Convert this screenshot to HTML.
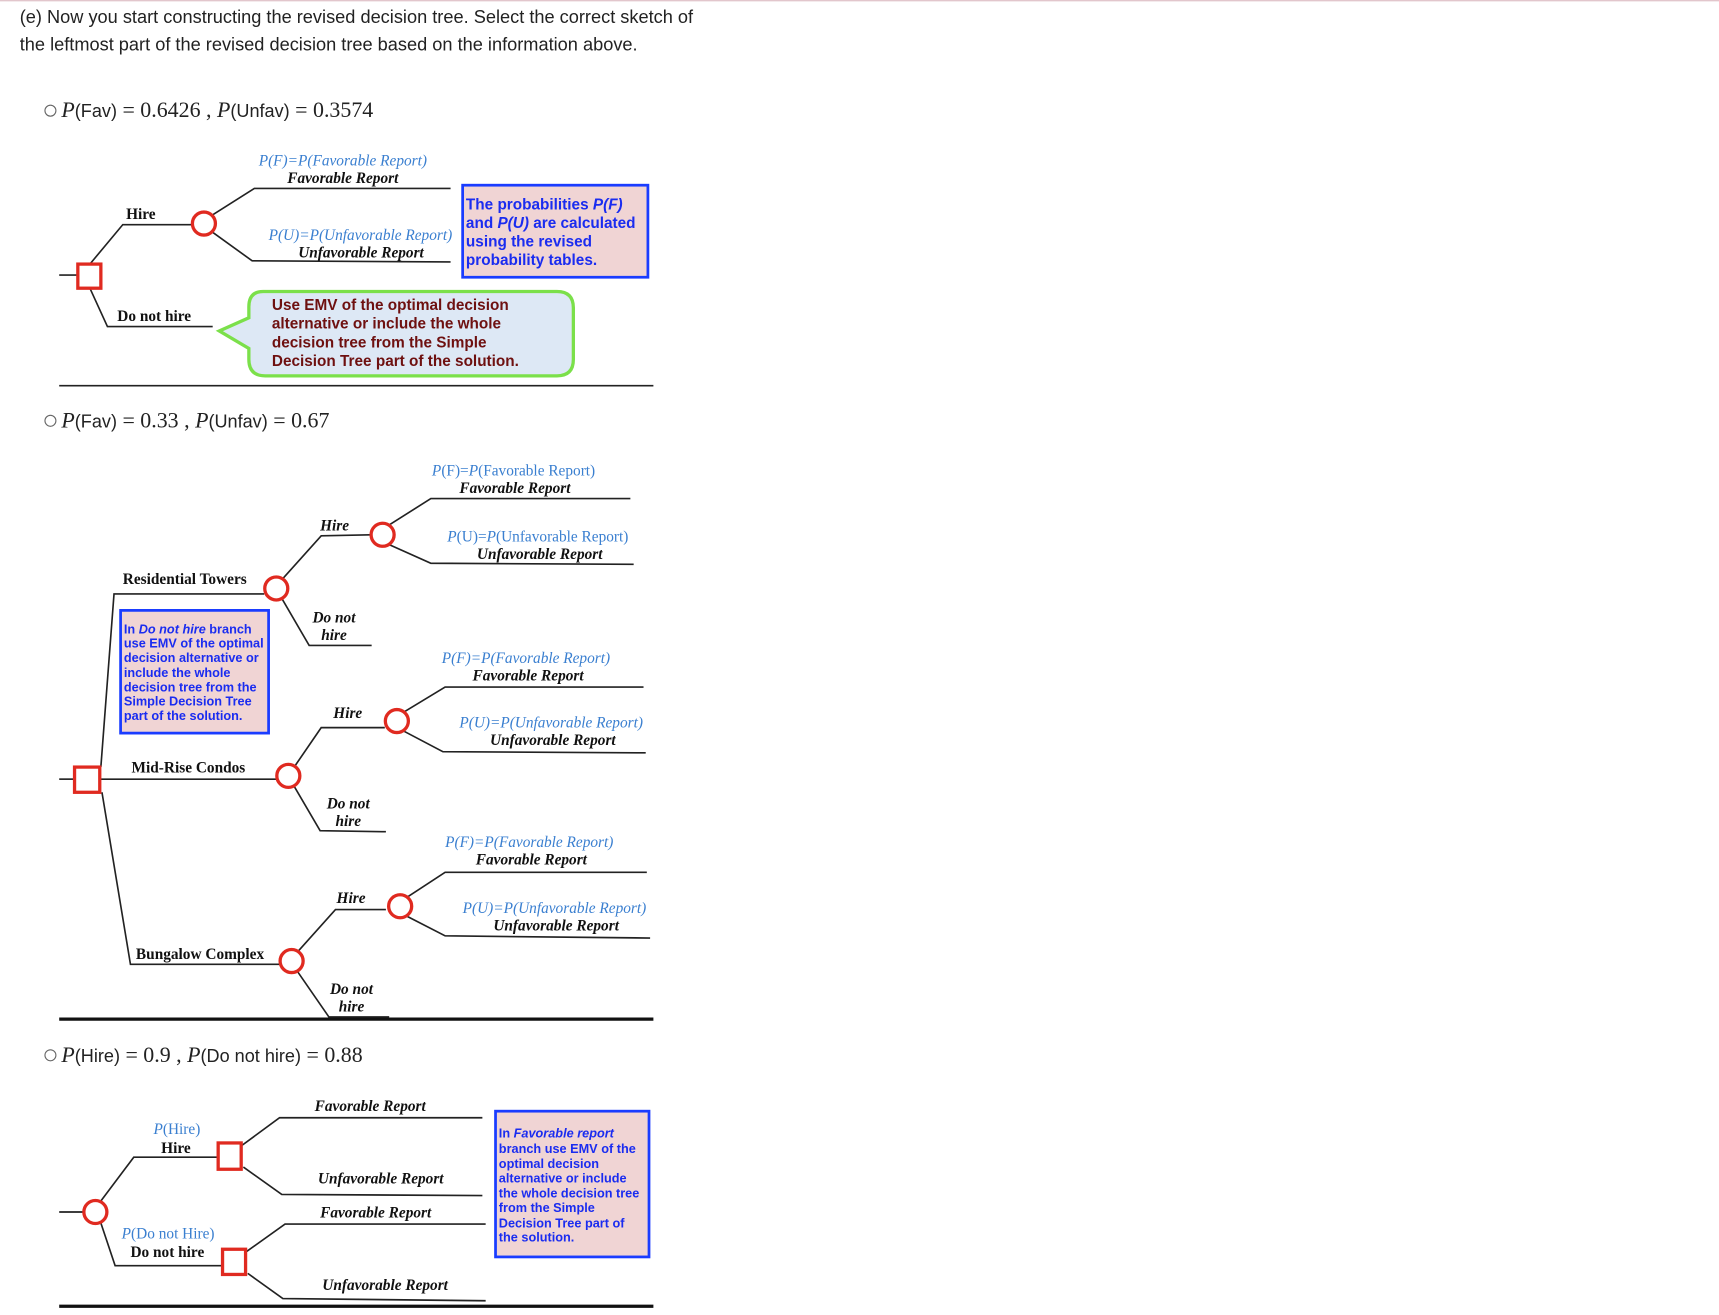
<!DOCTYPE html>
<html><head><meta charset="utf-8"><style>
html,body{margin:0;padding:0;background:#fff;}
svg{display:block}
.h{font-family:"Liberation Sans",sans-serif;font-size:16.6px;fill:#222}
.m{font-family:"Liberation Serif",serif;font-size:20px;fill:#222}
.ms{font-family:"Liberation Sans",sans-serif;font-size:16.5px;fill:#222}
.b{font-family:"Liberation Serif",serif;font-weight:bold;font-size:14px;fill:#111}
.bi{font-family:"Liberation Serif",serif;font-weight:bold;font-style:italic;font-size:14px;fill:#111}
.bl{font-family:"Liberation Serif",serif;font-size:14px;fill:#3a7fd0}
.bli{font-family:"Liberation Serif",serif;font-style:italic;font-size:14px;fill:#3a7fd0}
.bx{font-family:"Liberation Sans",sans-serif;font-weight:bold;font-size:14px;fill:#1a2cf0}
.bs{font-family:"Liberation Sans",sans-serif;font-weight:bold;font-size:11.6px;fill:#1a2cf0}
.cl{font-family:"Liberation Sans",sans-serif;font-weight:bold;font-size:14px;fill:#6e1010}
.ln{stroke:#222;stroke-width:1.5;fill:none}
.rc{fill:#fff;stroke:#e02a20;stroke-width:3}
</style></head><body>
<svg width="1719" height="1315" viewBox="0 0 1568 1200" preserveAspectRatio="none" xmlns="http://www.w3.org/2000/svg">
<line x1="0" y1="0.5" x2="1568" y2="0.5" stroke="#e2c6cc" stroke-width="1.5"/>
<text class="h" x="18" y="21">(e) Now you start constructing the revised decision tree. Select the correct sketch of</text>
<text class="h" x="18" y="46">the leftmost part of the revised decision tree based on the information above.</text>

<!-- Option 1 -->
<circle cx="46" cy="101" r="5" fill="#fff" stroke="#666" stroke-width="1"/>
<text x="56" y="107"><tspan class="m" font-style="italic">P</tspan><tspan class="ms">(Fav)</tspan><tspan class="m"> = 0.6426 , </tspan><tspan class="m" font-style="italic">P</tspan><tspan class="ms">(Unfav)</tspan><tspan class="m"> = 0.3574</tspan></text>

<polyline class="ln" points="54,251 71,251"/>
<polyline class="ln" points="82,241 112,205 175,205"/>
<polyline class="ln" points="82,263 98,298 194,298"/>
<rect class="rc" x="71" y="241" width="21" height="22"/>
<text class="b" x="115" y="200">Hire</text>
<text class="b" x="107" y="293">Do not hire</text>
<polyline class="ln" points="194,196 232,172 411,172"/>
<polyline class="ln" points="194,212 230,238 411,239"/>
<circle class="rc" cx="186" cy="204" r="10.5"/>
<text class="bli" x="236" y="151">P(F)=P(Favorable Report)</text>
<text class="bi" x="262" y="167">Favorable Report</text>
<text class="bli" x="245" y="219">P(U)=P(Unfavorable Report)</text>
<text class="bi" x="272" y="235">Unfavorable Report</text>
<rect x="422" y="169" width="169" height="84" fill="#f0d4d4" stroke="#1a3cff" stroke-width="2.5"/>
<text class="bx" x="425" y="191">The probabilities <tspan font-style="italic">P(F)</tspan></text>
<text class="bx" x="425" y="208">and <tspan font-style="italic">P(U)</tspan> are calculated</text>
<text class="bx" x="425" y="225">using the revised</text>
<text class="bx" x="425" y="242">probability tables.</text>
<path d="M240,266 L508,266 Q523,266 523,281 L523,328 Q523,343 508,343 L242,343 Q227,343 227,328 L227,318 L200,302 L227,290 L227,280 Q227,266 240,266 Z" fill="#dde8f5" stroke="#7be04a" stroke-width="3"/>
<text class="cl" x="248" y="283">Use EMV of the optimal decision</text>
<text class="cl" x="248" y="300">alternative or include the whole</text>
<text class="cl" x="248" y="317">decision tree from the Simple</text>
<text class="cl" x="248" y="334">Decision Tree part of the solution.</text>
<line x1="54" y1="352" x2="596" y2="352" stroke="#222" stroke-width="1.5"/>

<!-- Option 2 -->
<circle cx="46" cy="384" r="5" fill="#fff" stroke="#666" stroke-width="1"/>
<text x="56" y="390"><tspan class="m" font-style="italic">P</tspan><tspan class="ms">(Fav)</tspan><tspan class="m"> = 0.33 , </tspan><tspan class="m" font-style="italic">P</tspan><tspan class="ms">(Unfav)</tspan><tspan class="m"> = 0.67</tspan></text>

<polyline class="ln" points="54,711 68,711"/>
<polyline class="ln" points="92,700 104,542 241,542"/>
<polyline class="ln" points="91,711 252,711"/>
<polyline class="ln" points="93,723 119,880 255,880"/>
<rect class="rc" x="68" y="700" width="23" height="23"/>
<text class="b" x="112" y="533">Residential Towers</text>
<text class="b" x="120" y="705">Mid-Rise Condos</text>
<text class="b" x="124" y="875">Bungalow Complex</text>

<!-- RT -->
<polyline class="ln" points="258,528 293,489 338,488"/>
<polyline class="ln" points="257,546 282,589 339,589"/>
<circle class="rc" cx="252" cy="537" r="10.5"/>
<text class="bi" x="292" y="484">Hire</text>
<text class="bi" x="285" y="568">Do not</text>
<text class="bi" x="293" y="584">hire</text>
<polyline class="ln" points="355,479 393,455 575,455"/>
<polyline class="ln" points="355,497 393,514 578,515"/>
<circle class="rc" cx="349" cy="488" r="10.5"/>
<text class="bl" x="394" y="434"><tspan font-style="italic">P</tspan>(F)=<tspan font-style="italic">P</tspan>(Favorable Report)</text>
<text class="bi" x="419" y="450">Favorable Report</text>
<text class="bl" x="408" y="494"><tspan font-style="italic">P</tspan>(U)=<tspan font-style="italic">P</tspan>(Unfavorable Report)</text>
<text class="bi" x="435" y="510">Unfavorable Report</text>
<rect x="110" y="557" width="135" height="112" fill="#f0d4d4" stroke="#1a3cff" stroke-width="2.5"/>
<text class="bs" x="113" y="578">In <tspan font-style="italic">Do not hire</tspan> branch</text>
<text class="bs" x="113" y="591">use EMV of the optimal</text>
<text class="bs" x="113" y="604">decision alternative or</text>
<text class="bs" x="113" y="618">include the whole</text>
<text class="bs" x="113" y="631">decision tree from the</text>
<text class="bs" x="113" y="644">Simple Decision Tree</text>
<text class="bs" x="113" y="657">part of the solution.</text>

<!-- MR -->
<polyline class="ln" points="269,699 293,664 351,664"/>
<polyline class="ln" points="268,717 292,758 352,759"/>
<circle class="rc" cx="263" cy="708" r="10.5"/>
<text class="bi" x="304" y="655">Hire</text>
<text class="bi" x="298" y="738">Do not</text>
<text class="bi" x="306" y="754">hire</text>
<polyline class="ln" points="368,650 406,627 587,627"/>
<polyline class="ln" points="368,667 404,686 589,687"/>
<circle class="rc" cx="362" cy="658" r="10.5"/>
<text class="bli" x="403" y="605">P(F)=P(Favorable Report)</text>
<text class="bi" x="431" y="621">Favorable Report</text>
<text class="bli" x="419" y="664">P(U)=P(Unfavorable Report)</text>
<text class="bi" x="447" y="680">Unfavorable Report</text>

<!-- BC -->
<polyline class="ln" points="272,868 306,830 352,830"/>
<polyline class="ln" points="271,886 300,928 355,928"/>
<circle class="rc" cx="266" cy="877" r="10.5"/>
<text class="bi" x="307" y="824">Hire</text>
<text class="bi" x="301" y="907">Do not</text>
<text class="bi" x="309" y="923">hire</text>
<polyline class="ln" points="371,819 406,796 590,796"/>
<polyline class="ln" points="371,836 406,854 593,856"/>
<circle class="rc" cx="365" cy="827" r="10.5"/>
<text class="bli" x="406" y="773">P(F)=P(Favorable Report)</text>
<text class="bi" x="434" y="789">Favorable Report</text>
<text class="bli" x="422" y="833">P(U)=P(Unfavorable Report)</text>
<text class="bi" x="450" y="849">Unfavorable Report</text>
<line x1="54" y1="930" x2="596" y2="930" stroke="#111" stroke-width="3"/>

<!-- Option 3 -->
<circle cx="46" cy="963" r="5" fill="#fff" stroke="#666" stroke-width="1"/>
<text x="56" y="969"><tspan class="m" font-style="italic">P</tspan><tspan class="ms">(Hire)</tspan><tspan class="m"> = 0.9 , </tspan><tspan class="m" font-style="italic">P</tspan><tspan class="ms">(Do not hire)</tspan><tspan class="m"> = 0.88</tspan></text>

<polyline class="ln" points="54,1106 76,1106"/>
<polyline class="ln" points="92,1096 122,1056 199,1056"/>
<polyline class="ln" points="92,1116 105,1155 203,1155"/>
<circle class="rc" cx="87" cy="1106" r="10.5"/>
<text class="bl" x="140" y="1035"><tspan font-style="italic">P</tspan>(Hire)</text>
<text class="b" x="147" y="1052">Hire</text>
<text class="bl" x="111" y="1130"><tspan font-style="italic">P</tspan>(Do not Hire)</text>
<text class="b" x="119" y="1147">Do not hire</text>
<polyline class="ln" points="221,1045 255,1020 440,1020"/>
<polyline class="ln" points="222,1065 257,1090 440,1091"/>
<rect class="rc" x="199" y="1043" width="21" height="24"/>
<text class="bi" x="287" y="1014">Favorable Report</text>
<text class="bi" x="290" y="1080">Unfavorable Report</text>
<polyline class="ln" points="225,1142 260,1117 443,1117"/>
<polyline class="ln" points="226,1162 258,1185 443,1187"/>
<rect class="rc" x="203" y="1140" width="21" height="23"/>
<text class="bi" x="292" y="1111">Favorable Report</text>
<text class="bi" x="294" y="1177">Unfavorable Report</text>
<rect x="452" y="1014" width="140" height="133" fill="#f0d4d4" stroke="#1a3cff" stroke-width="2.5"/>
<text class="bs" x="455" y="1038">In <tspan font-style="italic">Favorable report</tspan></text>
<text class="bs" x="455" y="1052">branch use EMV of the</text>
<text class="bs" x="455" y="1066">optimal decision</text>
<text class="bs" x="455" y="1079">alternative or include</text>
<text class="bs" x="455" y="1093">the whole decision tree</text>
<text class="bs" x="455" y="1106">from the Simple</text>
<text class="bs" x="455" y="1120">Decision Tree part of</text>
<text class="bs" x="455" y="1133">the solution.</text>
<line x1="54" y1="1192" x2="596" y2="1192" stroke="#111" stroke-width="3"/>
</svg>
</body></html>
